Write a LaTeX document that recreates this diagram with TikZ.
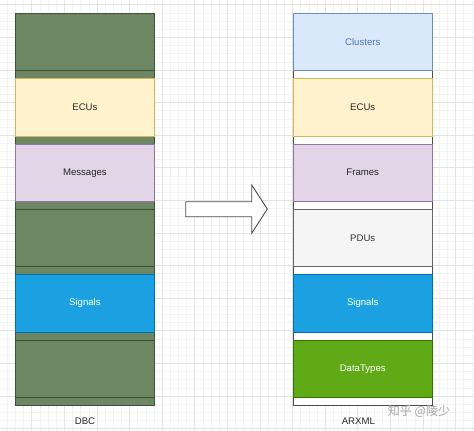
\documentclass[tikz,border=0pt]{standalone}
\usepackage{fontspec}
\setmainfont{Liberation Sans}
\newfontfamily\cjkfont{Noto Sans CJK SC}
\definecolor{dgfill}{HTML}{6D8764}
\definecolor{dgline}{HTML}{3A5431}
\definecolor{yfill}{HTML}{FFF2CC}
\definecolor{yline}{HTML}{D6B656}
\definecolor{pfill}{HTML}{E1D5E7}
\definecolor{pline}{HTML}{9673A6}
\definecolor{bfill}{HTML}{1BA1E2}
\definecolor{bline}{HTML}{006EAF}
\definecolor{cfill}{HTML}{DAE8FC}
\definecolor{cline}{HTML}{6C8EBF}
\definecolor{ctext}{HTML}{4A77B4}
\definecolor{gfill}{HTML}{F5F5F5}
\definecolor{gline}{HTML}{666666}
\definecolor{gtext}{HTML}{333333}
\definecolor{tfill}{HTML}{60A917}
\definecolor{tline}{HTML}{2D7600}
\definecolor{txt}{HTML}{262626}
\definecolor{gridminor}{HTML}{F3F3F3}
\definecolor{gridmajor}{HTML}{E3E3E3}
\definecolor{outline}{HTML}{4D4D4D}
\begin{document}
\begin{tikzpicture}[x=1pt,y=-1pt,
  minorgrid/.style={draw=gridminor,line width=0.5pt},
  majorgrid/.style={draw=gridmajor,line width=0.7pt},
  container/.style={draw=outline,line width=0.9pt,anchor=north west,inner sep=0pt,minimum width=139pt,minimum height=392pt},
  layer/.style={line width=0.8pt,anchor=north west,inner sep=0pt,minimum width=139pt,minimum height=57.33pt,font=\fontsize{9.6}{11}\selectfont,text=txt},
  dg/.style={layer,fill=dgfill,draw=dgline},
  yl/.style={layer,fill=yfill,draw=yline},
  pu/.style={layer,fill=pfill,draw=pline},
  bl/.style={layer,fill=bfill,draw=bline,text=white},
  cl/.style={layer,fill=cfill,draw=cline,text=ctext},
  gr/.style={layer,fill=gfill,draw=gline,text=gtext},
  gn/.style={layer,fill=tfill,draw=tline,text=white},
  caption/.style={font=\fontsize{9.6}{11}\selectfont,text=txt,inner sep=0pt},
  bigarrow/.style={draw=outline,line width=0.9pt,fill=white,line join=miter}
]
\useasboundingbox (0,0) rectangle (474,431);
\fill[white] (0,0) rectangle (474,431);
% grid
\foreach \i in {0,...,59} {\draw[minorgrid] ({-0.9+8.15*\i},0) -- ({-0.9+8.15*\i},431);}
\foreach \i in {0,...,53} {\draw[minorgrid] (0,{-3.45+8.15*\i}) -- (474,{-3.45+8.15*\i});}
\foreach \i in {0,...,15} {\draw[majorgrid] ({-0.9+32.6*\i},0) -- ({-0.9+32.6*\i},431);}
\foreach \i in {0,...,13} {\draw[majorgrid] (0,{4.7+32.6*\i}) -- (474,{4.7+32.6*\i});}

% left column (DBC)
\node[container,fill=dgfill,draw=dgline] (dbc) at (15,13) {};
\node[dg] (l1) at (15,13) {};
\node[yl] (l2) at (15,78.33) {ECUs};
\node[pu] (l3) at (15,143.67) {Messages};
\node[dg] (l4) at (15,209) {};
\node[bl] (l5) at (15,274.33) {Signals};
\node[dg] (l6) at (15,339.67) {};
\node[caption] (dbclabel) at (85,421) {DBC};

% right column (ARXML)
\node[container,fill=white,minimum width=139.3pt] (arxml) at (292.7,13) {};
\node[cl,minimum width=139.3pt] (r1) at (292.7,13) {Clusters};
\node[yl,minimum width=139.3pt] (r2) at (292.7,78.33) {ECUs};
\node[pu,minimum width=139.3pt] (r3) at (292.7,143.67) {Frames};
\node[gr,minimum width=139.3pt] (r4) at (292.7,209) {PDUs};
\node[bl,minimum width=139.3pt] (r5) at (292.7,274.33) {Signals};
\node[gn,minimum width=139.3pt] (r6) at (292.7,339.67) {DataTypes};
\node[caption] (arxmllabel) at (358.3,421) {ARXML};

% block arrow
\draw[bigarrow] (185.7,201.7) -- (251.7,201.7) -- (251.7,185) -- (267.3,209)
  -- (251.7,233.3) -- (251.7,216.7) -- (185.7,216.7) -- cycle;

% watermark
\node[font=\cjkfont\fontsize{12}{14}\selectfont,text=black!35,inner sep=0pt] (wm) at (419,411) {知乎 @陵少};
\end{tikzpicture}
\end{document}
